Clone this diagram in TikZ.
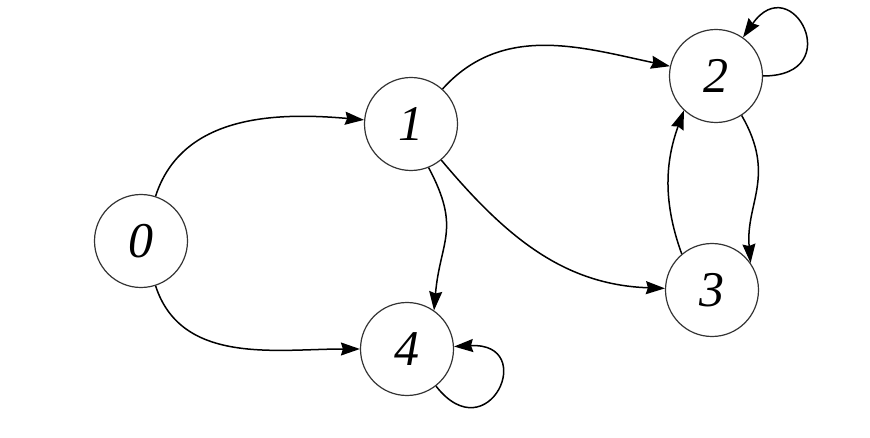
\documentclass[tikz,border=0pt]{standalone}
\usepackage{fontspec}
\setmainfont{Liberation Serif}
\usetikzlibrary{arrows.meta}
\begin{document}
\begin{tikzpicture}[x=1pt,y=-1pt,
  state/.style={circle,draw=black!80,line width=1.2pt,minimum size=93pt,inner sep=0pt,
    font=\fontsize{50}{50}\selectfont\itshape},
  edge/.style={line width=1.5pt,-{Stealth[length=19pt,width=13pt,inset=2pt]}}]
\useasboundingbox (0,0) rectangle (870,438);
\node[state] (n0) at (141,241) {0};
\node[state] (n1) at (411,124) {1};
\node[state] (n2) at (716,76) {2};
\node[state] (n3) at (712,290) {3};
\node[state] (n4) at (407,349) {4};
\draw[edge] (n0) to[out=72,in=175] (n1);
\draw[edge] (n0) to[out=-72,in=180] (n4);
\draw[edge] (n1) to[out=48,in=168] (n2);
\draw[edge] (n1) to[out=-50,in=178] (n3);
% polar offsets are in the flipped xy system: negate angles
\draw[edge] (n1.-68) .. controls +(62:70) and +(-85:70) .. (n4.55);
\draw[edge] (n2.-57) .. controls +(60:70) and +(-95:60) .. (n3.35);
\draw[edge] (n3.130) .. controls +(-110:55) and +(110:55) .. (n2.-133);
\draw[edge] (n2) to[out=0,in=55,looseness=5] (n2);
\draw[edge] (n4) to[out=-52,in=3,looseness=5] (n4);
\end{tikzpicture}
\end{document}
